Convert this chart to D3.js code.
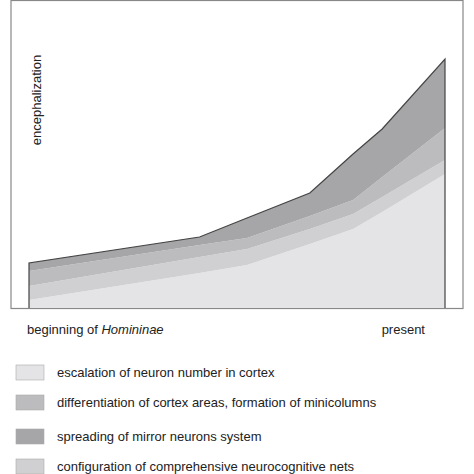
<!DOCTYPE html>
<html><head><meta charset="utf-8">
<script src="https://cdn.jsdelivr.net/npm/d3@7"></script>
<style>body{margin:0;background:#fff}svg{display:block;font-family:Arial,"Liberation Sans",sans-serif}</style>
</head><body><div id="chart"></div>
<script>
// time axis (0 = beginning of Homininae, 100 = present)
var times = [0, 41, 52.4, 67.5, 77.9, 84.9, 100];
// layer thickness, bottom to top
var escalation      = [8, 35, 43, 64, 79, 96, 134];
var configuration   = [14, 16, 16, 15, 15, 15, 14];
var differentiation = [15, 12, 11, 13, 14, 20, 32];
var mirror          = [8, 8, 20, 23, 46, 48, 69];
var legendLabels = ["escalation of neuron number in cortex",
  "differentiation of cortex areas, formation of minicolumns",
  "spreading of mirror neurons system",
  "configuration of comprehensive neurocognitive nets"];
var legendColors = ["#e4e4e6", "#bcbcbe", "#a6a6a8", "#d0d0d2"];

var W = 474, H = 474;
var svg = d3.select("#chart").append("svg").attr("width", W).attr("height", H);

var x = d3.scaleLinear().domain([0, 100]).range([29, 445]);
var y = d3.scaleLinear().domain([0, 308]).range([308, 0]);

var rows = times.map(function(t, i){
  return {t: t, esc: escalation[i], conf: configuration[i], diff: differentiation[i], mir: mirror[i]};
});
var keys = ["esc", "conf", "diff", "mir"];
var fills = {esc: "#e4e4e6", conf: "#d0d0d2", diff: "#bcbcbe", mir: "#a6a6a8"};
var series = d3.stack().keys(keys)(rows);

// frame
svg.append("rect").attr("x", 11).attr("y", 0.5).attr("width", 452).attr("height", 308)
  .attr("fill", "none").attr("stroke", "#888").attr("stroke-width", 1.2);

var area = d3.area().x(function(d){ return x(d.data.t); })
  .y0(function(d){ return y(d[0]); }).y1(function(d){ return y(d[1]); });
svg.selectAll("path.layer").data(series).enter().append("path")
  .attr("class", "layer").attr("d", area)
  .attr("fill", function(d){ return fills[d.key]; });

// outline of the top
var topLayer = series[series.length - 1];
var outline = d3.line().x(function(d){ return x(d.data.t); }).y(function(d){ return y(d[1]); });
svg.append("path").attr("d", "M" + x(0) + "," + y(0) + outline(topLayer).replace("M", "L") + "L" + x(100) + "," + y(0))
  .attr("fill", "none").attr("stroke", "#444").attr("stroke-width", 1.2);

// axis label
svg.append("text").attr("transform", "translate(41,100) rotate(-90)")
  .attr("text-anchor", "middle").attr("font-size", 13).attr("fill", "#222").text("encephalization");

var xl = svg.append("text").attr("x", 27).attr("y", 334).attr("font-size", 13).attr("fill", "#222");
xl.append("tspan").text("beginning of ");
xl.append("tspan").attr("font-style", "italic").text("Homininae");
svg.append("text").attr("x", 425).attr("y", 334).attr("text-anchor", "end")
  .attr("font-size", 13).attr("fill", "#222").text("present");

// legend
var ly = [372, 402, 436, 466];
var lg = svg.selectAll("g.leg").data(legendLabels).enter().append("g")
  .attr("transform", function(d, i){ return "translate(0," + ly[i] + ")"; });
lg.append("rect").attr("x", 16).attr("y", -7).attr("width", 28).attr("height", 15)
  .attr("fill", function(d, i){ return legendColors[i]; }).attr("stroke", "#aaa").attr("stroke-width", 0.6);
lg.append("text").attr("x", 57).attr("y", 5).attr("font-size", 13).attr("fill", "#222")
  .text(function(d){ return d; });
</script></body></html>
